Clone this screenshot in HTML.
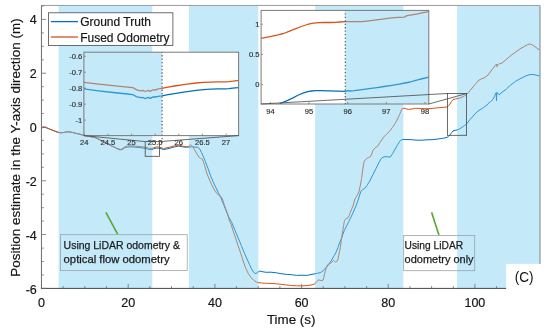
<!DOCTYPE html>
<html lang="en"><head><meta charset="utf-8"><title>Position estimate in the Y-axis direction</title>
<style>html,body{margin:0;padding:0;background:#fff}body{width:550px;height:333px;overflow:hidden}svg{display:block}text{font-family:"Liberation Sans",Arial,sans-serif;fill:#151515}.t12{font-size:12.5px}.lg{font-size:12px}.t13{font-size:13.4px}.t12,.lg,.t13{stroke:#151515;stroke-width:0.18px}.t8{font-size:7.6px;fill:#2e2e2e;stroke:#2e2e2e;stroke-width:0.15px}.an{font-size:10.6px;fill:#1c1c1c;stroke:#1c1c1c;stroke-width:0.25px}</style></head><body>
<svg width="550" height="333" viewBox="0 0 550 333">
<rect width="550" height="333" fill="#fff"/>
<g fill="none" stroke-linejoin="round" stroke-linecap="round" stroke-width="1.0">
<polyline stroke="#0072BD" points="41.5,128.2 42.5,127.6 43.5,127.3 45.5,127.4 47.0,128.0 52.0,130.0 56.0,131.6 59.1,132.6 61.8,132.8 64.5,132.3 67.3,131.8 70.0,132.0 72.7,132.5 76.0,133.4 80.0,134.2 83.6,135.5 89.0,136.4 94.5,137.3 99.0,139.3 103.6,141.8 108.0,144.0 112.7,146.4 116.5,148.2 118.3,148.8 120.0,149.4 122.0,149.6 124.5,147.9 127.5,147.0 131.0,146.9 134.5,147.1 138.2,147.5 142.0,147.9 145.5,148.4 148.5,149.3 151.0,149.8 153.5,148.9 156.4,148.0 158.5,148.2 161.0,148.7 163.6,149.6 166.0,149.1 169.0,148.4 172.0,147.6 174.5,146.9 178.2,146.1 181.0,146.5 183.6,147.0 186.5,147.2 189.0,147.0 192.0,146.9 195.0,147.1 197.8,147.4 199.5,148.6 201.6,152.7 203.5,157.0 205.4,161.6 208.0,168.5 210.5,175.6 213.0,181.5 215.6,187.0 218.0,192.0 220.7,197.3 223.2,203.5 225.8,210.0 228.5,216.5 231.8,222.7 235.0,230.3 238.2,238.0 241.3,245.5 244.5,253.3 247.0,259.0 249.6,264.7 251.5,268.8 253.4,272.0 254.7,273.3 256.0,273.6 257.8,272.2 259.8,271.0 263.0,271.8 266.2,272.3 271.0,272.2 276.3,272.8 281.0,273.7 286.5,274.4 291.5,274.7 296.7,275.4 302.0,275.2 306.9,275.4 311.0,274.5 314.8,273.8 317.5,273.3 320.0,272.7 321.5,271.9 323.0,270.8 324.5,269.4 326.0,267.8 327.5,266.0 329.0,264.0 331.0,261.0 332.8,258.0 334.3,255.4 335.8,252.8 337.0,250.0 338.0,247.5 339.2,244.0 340.3,241.0 341.3,238.8 342.8,234.6 344.3,230.5 346.5,226.0 348.8,221.5 350.6,217.8 352.5,214.0 355.5,207.0 358.2,200.0 359.8,194.5 360.9,191.2 362.8,189.4 364.7,188.5 367.0,185.5 369.8,180.9 373.0,174.5 376.2,168.2 378.7,163.0 381.2,158.6 383.0,157.2 385.0,156.7 387.5,156.8 390.2,157.2 392.7,153.5 395.2,149.0 397.7,144.5 400.3,140.6 402.0,139.6 404.1,139.4 408.0,139.6 411.8,139.7 417.0,140.2 422.0,140.2 427.0,139.8 432.1,139.7 437.0,139.1 442.3,138.4 445.0,137.9 447.0,137.4 448.5,136.4 450.0,135.0 451.5,132.8 453.0,131.0 455.0,130.3 457.0,130.0 459.5,128.9 462.0,127.4 464.3,125.7 466.6,124.0 470.0,119.6 474.0,115.0 478.0,111.0 483.6,107.5 487.3,104.8 488.2,103.5 490.5,101.6 492.7,99.8 494.5,96.2 496.2,92.6 496.5,100.7 496.8,92.4 497.6,93.0 499.1,94.8 502.0,92.2 505.8,89.6 506.4,88.9 510.9,84.8 515.5,81.4 520.0,78.8 526.0,75.8 529.0,74.8 532.0,74.4 536.0,75.0 539.4,76.0"/>
<polyline stroke="#D95319" points="41.5,128.2 42.5,127.6 43.5,127.3 45.5,127.4 47.0,128.0 52.0,130.0 56.0,131.6 59.1,132.6 61.8,132.8 64.5,132.3 67.3,131.8 70.0,132.0 72.7,132.5 76.0,133.4 80.0,134.2 83.6,135.5 89.0,136.4 94.5,137.3 99.0,139.3 103.6,141.8 108.0,144.0 112.7,146.4 116.5,148.4 120.0,150.0 122.0,149.0 124.5,147.0 127.5,146.0 131.0,145.8 134.5,146.0 138.2,146.4 142.0,146.8 145.5,147.3 148.5,148.2 151.0,148.7 153.5,147.8 156.4,146.9 158.5,147.1 161.0,147.6 163.6,148.5 166.0,148.0 169.0,147.3 172.0,146.5 174.5,145.8 178.2,145.1 181.0,145.6 183.6,146.4 186.5,146.8 188.5,146.7 189.4,145.4 190.2,144.7 191.2,145.1 192.6,146.5 194.2,149.2 195.9,152.0 197.5,154.8 199.2,157.5 200.5,158.3 201.9,158.8 202.7,160.0 203.5,161.8 204.6,165.5 205.7,169.5 207.4,175.0 208.1,176.5 209.8,180.5 211.4,184.2 213.3,188.0 215.2,191.3 216.8,193.3 218.5,195.1 221.2,196.7 222.0,198.2 222.8,200.2 223.7,203.0 224.5,205.5 227.0,212.5 229.6,221.4 230.5,222.7 233.0,230.5 235.6,238.0 238.0,245.5 240.7,253.3 243.2,261.0 245.8,268.5 248.3,273.5 250.9,277.4 254.0,280.5 257.3,282.5 261.5,283.0 266.2,283.3 271.0,283.4 276.3,283.8 281.0,284.3 286.5,285.0 291.5,285.5 296.7,285.8 302.0,285.9 306.9,285.6 311.0,285.0 314.8,284.0 316.0,282.6 317.0,281.3 318.5,279.9 320.8,280.5 323.0,280.2 323.8,277.5 324.5,274.2 325.3,270.8 326.4,267.5 327.5,264.8 329.0,263.9 330.5,263.3 332.0,261.9 333.5,260.4 334.7,261.4 335.8,262.2 337.3,261.0 338.1,258.5 338.8,255.0 339.6,251.2 340.3,247.5 341.3,240.5 342.1,235.0 342.8,230.5 343.6,225.5 344.3,221.5 345.0,219.8 345.8,218.8 347.0,218.2 348.0,217.8 349.2,215.5 350.3,212.5 351.8,208.8 353.3,205.0 354.5,200.0 357.2,195.5 358.9,192.0 360.2,186.0 361.6,178.3 362.9,168.5 364.1,161.8 365.4,159.6 366.7,158.5 368.7,157.5 370.5,156.7 371.7,154.2 373.0,150.4 375.2,147.7 377.6,146.2 380.0,142.5 383.6,137.1 386.5,134.2 389.5,131.3 392.5,127.3 395.3,123.3 397.5,119.0 399.6,114.5 400.8,111.5 401.8,108.9 404.0,108.2 408.4,109.4 412.0,109.0 415.6,108.3 420.0,108.4 425.0,108.7 430.0,108.6 435.0,108.1 440.0,107.6 444.0,107.3 447.0,107.0 448.5,105.8 450.0,104.0 451.5,101.5 453.0,99.6 455.5,98.9 458.0,98.5 460.0,98.0 462.0,97.2 464.5,95.8 467.0,94.2 470.0,90.6 473.0,87.0 476.0,83.4 479.0,80.0 481.5,78.8 484.0,78.0 486.0,76.6 488.0,75.0 491.0,71.0 494.0,67.0 495.5,65.2 496.6,64.0 497.1,66.8 497.6,64.6 498.4,64.3 500.0,63.7 502.0,63.0 505.0,60.6 509.0,57.0 514.0,53.2 520.0,49.0 525.0,46.0 529.0,44.0 531.5,44.5 534.0,46.0 537.0,48.2 539.4,50.0"/>
</g>
<rect x="58.6" y="5.95" width="93.7" height="282.4" fill="#73cbf1" fill-opacity="0.42"/>
<rect x="188.9" y="5.95" width="69.4" height="282.4" fill="#73cbf1" fill-opacity="0.42"/>
<rect x="315.1" y="5.95" width="88.2" height="282.4" fill="#73cbf1" fill-opacity="0.42"/>
<rect x="457.1" y="5.95" width="82.9" height="282.4" fill="#73cbf1" fill-opacity="0.42"/>
<g fill="none" stroke-width="1">
<path d="M41.45 5.45 H540.0" stroke="#9a9a9a"/>
<path d="M540.0 5.45 V288.4" stroke="#8c979e" stroke-width="1.2"/>
<path d="M41.45 5.45 V288.4" stroke="#6e6e6e"/>
<path d="M40.95 288.4 H540.0" stroke="#454545"/>
<path d="M41.5 288.4 v-4.5 M63.1 288.4 v-2.3 M84.8 288.4 v-2.3 M106.5 288.4 v-2.3 M128.2 288.4 v-4.5 M149.8 288.4 v-2.3 M171.5 288.4 v-2.3 M193.2 288.4 v-2.3 M214.9 288.4 v-4.5 M236.5 288.4 v-2.3 M258.2 288.4 v-2.3 M279.9 288.4 v-2.3 M301.6 288.4 v-4.5 M323.2 288.4 v-2.3 M344.9 288.4 v-2.3 M366.6 288.4 v-2.3 M388.2 288.4 v-4.5 M409.9 288.4 v-2.3 M431.6 288.4 v-2.3 M453.3 288.4 v-2.3 M474.9 288.4 v-4.5 M496.6 288.4 v-2.3 M518.3 288.4 v-2.3 M41.45 288.4 h4.6 M41.45 274.9 h2.3 M41.45 261.5 h2.3 M41.45 248.1 h2.3 M41.45 234.6 h4.6 M41.45 221.1 h2.3 M41.45 207.7 h2.3 M41.45 194.2 h2.3 M41.45 180.8 h4.6 M41.45 167.3 h2.3 M41.45 153.9 h2.3 M41.45 140.4 h2.3 M41.45 127.0 h4.6 M41.45 113.5 h2.3 M41.45 100.1 h2.3 M41.45 86.7 h2.3 M41.45 73.2 h4.6 M41.45 59.8 h2.3 M41.45 46.3 h2.3 M41.45 32.9 h2.3 M41.45 19.4 h4.6 M41.45 6.0 h2.3 " stroke="#6a6a6a" stroke-width="0.8"/>
</g>
<text class="t12" x="41.5" y="306.8" text-anchor="middle">0</text>
<text class="t12" x="128.2" y="306.8" text-anchor="middle">20</text>
<text class="t12" x="214.9" y="306.8" text-anchor="middle">40</text>
<text class="t12" x="301.6" y="306.8" text-anchor="middle">60</text>
<text class="t12" x="388.2" y="306.8" text-anchor="middle">80</text>
<text class="t12" x="474.9" y="306.8" text-anchor="middle">100</text>
<text class="t12" x="36.8" y="24.3" text-anchor="end">4</text>
<text class="t12" x="36.8" y="78.2" text-anchor="end">2</text>
<text class="t12" x="36.8" y="132.1" text-anchor="end">0</text>
<text class="t12" x="36.8" y="186.1" text-anchor="end">-2</text>
<text class="t12" x="36.8" y="240.0" text-anchor="end">-4</text>
<text class="t12" x="36.8" y="293.9" text-anchor="end">-6</text>
<text class="t13" x="291.2" y="324" text-anchor="middle">Time (s)</text>
<text class="t13" transform="translate(19.5 147.6) rotate(-90)" text-anchor="middle" textLength="258.5">Position estimate in the Y-axis direction (m)</text>
<rect x="83.9" y="52.2" width="154.7" height="83.4" fill="#fff"/>
<clipPath id="c1"><rect x="83.9" y="52.2" width="154.7" height="83.4"/></clipPath>
<g clip-path="url(#c1)" fill="none" stroke-width="1.3" stroke-linejoin="round">
<polyline stroke="#0072BD" points="83.9,88.9 98.5,90.8 113.1,92.5 127.6,94.0 132.7,94.7 134.5,95.5 136.4,96.6 138.5,97.2 140.7,97.6 142.9,97.5 145.1,98.7 146.5,98.0 148.0,97.3 150.2,98.4 151.6,97.6 153.1,96.9 155.2,97.0 158.2,96.3 161.8,95.8 168.0,94.7 174.5,93.6 182.0,92.4 189.1,91.4 196.0,90.4 203.6,89.6 211.0,89.2 218.2,88.9 225.5,88.9 229.0,88.6 232.7,88.2 235.5,87.9 238.6,87.6"/>
<polyline stroke="#D95319" points="83.9,82.4 98.5,84.1 113.1,85.7 127.6,87.2 132.7,87.7 134.5,88.5 136.4,89.6 138.5,90.3 140.7,90.8 142.9,90.4 145.1,91.5 146.5,91.0 148.0,90.4 150.2,91.4 151.6,90.5 153.1,89.7 155.2,90.1 156.8,89.3 158.2,88.9 160.0,88.7 161.8,88.4 168.0,87.2 174.5,86.0 182.0,84.8 189.1,83.8 196.0,83.0 203.6,82.4 211.0,82.1 218.2,81.9 225.5,81.9 229.0,81.6 232.7,81.2 235.5,80.8 238.6,80.4"/>
</g>
<rect x="83.9" y="52.2" width="78.2" height="83.4" fill="#73cbf1" fill-opacity="0.42"/>
<path d="M162.1 52.2 V143.5" stroke="#5a5a5a" stroke-width="1.2" stroke-dasharray="1.3 2.15" stroke-dashoffset="0.55" fill="none"/>
<rect x="83.9" y="52.2" width="154.7" height="83.4" fill="none" stroke="#7a7a7a" stroke-width="1"/>
<path d="M84.3 135.6 v-2 M107.9 135.6 v-2 M131.6 135.6 v-2 M155.2 135.6 v-2 M178.8 135.6 v-2 M202.4 135.6 v-2 M226.1 135.6 v-2 M83.9 56.3 h2 M83.9 72.25 h2 M83.9 88.2 h2 M83.9 104.15 h2 M83.9 120.1 h2 " stroke="#7a7a7a" stroke-width="0.8" fill="none"/>
<text class="t8" x="84.3" y="145.3" text-anchor="middle">24</text>
<text class="t8" x="107.9" y="145.3" text-anchor="middle">24.5</text>
<text class="t8" x="131.6" y="145.3" text-anchor="middle">25</text>
<text class="t8" x="155.2" y="145.3" text-anchor="middle">25.5</text>
<text class="t8" x="178.8" y="145.3" text-anchor="middle">26</text>
<text class="t8" x="202.4" y="145.3" text-anchor="middle">26.5</text>
<text class="t8" x="226.1" y="145.3" text-anchor="middle">27</text>
<text class="t8" x="82.3" y="59.4" text-anchor="end">-0.6</text>
<text class="t8" x="82.3" y="75.3" text-anchor="end">-0.7</text>
<text class="t8" x="82.3" y="91.3" text-anchor="end">-0.8</text>
<text class="t8" x="82.3" y="107.2" text-anchor="end">-0.9</text>
<text class="t8" x="82.3" y="123.2" text-anchor="end">-1</text>
<rect x="261.1" y="10.4" width="167.7" height="93.6" fill="#fff"/>
<clipPath id="c2"><rect x="261.1" y="10.4" width="167.7" height="93.6"/></clipPath>
<g clip-path="url(#c2)" fill="none" stroke-width="1.3" stroke-linejoin="round">
<polyline stroke="#0072BD" points="279.7,103.6 283.5,102.2 287.2,100.6 293.0,97.8 298.4,95.0 303.0,93.2 307.7,91.7 311.5,91.0 315.1,90.6 321.0,90.7 328.2,90.9 337.0,91.1 345.3,91.3 347.5,90.6 350.0,91.0 354.3,90.6 362.0,89.7 369.2,88.7 377.0,87.6 384.1,86.5 392.0,85.3 399.0,84.2 405.0,83.0 410.2,82.0 414.0,80.9 417.6,79.8 423.0,78.5 428.8,77.2"/>
<polyline stroke="#D95319" points="261.1,38.4 266.0,37.4 272.3,36.2 278.0,34.9 283.5,33.5 289.0,31.4 294.6,29.1 300.0,27.0 305.8,25.0 309.5,23.9 313.3,23.1 319.0,22.6 324.5,22.4 330.0,22.5 335.6,22.4 340.0,22.0 345.3,21.6 353.0,21.7 361.7,21.6 369.0,20.8 376.6,19.8 384.0,18.8 391.5,17.9 398.0,17.4 404.6,17.1 405.8,16.2 407.2,15.7 412.0,14.8 417.6,13.8 423.0,12.7 428.8,11.6"/>
</g>
<rect x="345.3" y="10.4" width="83.5" height="93.6" fill="#73cbf1" fill-opacity="0.42"/>
<path d="M345.3 10.4 V106" stroke="#5a5a5a" stroke-width="1.2" stroke-dasharray="1.3 2.15" stroke-dashoffset="0.55" fill="none"/>
<rect x="261.1" y="10.4" width="167.7" height="93.6" fill="none" stroke="#7a7a7a" stroke-width="1"/>
<path d="M270.4 104.0 v-2 M309.0 104.0 v-2 M347.7 104.0 v-2 M386.3 104.0 v-2 M425.0 104.0 v-2 M261.1 24.2 h2 M261.1 54.4 h2 M261.1 84.6 h2 " stroke="#7a7a7a" stroke-width="0.8" fill="none"/>
<text class="t8" x="270.4" y="113.7" text-anchor="middle">94</text>
<text class="t8" x="309.0" y="113.7" text-anchor="middle">95</text>
<text class="t8" x="347.7" y="113.7" text-anchor="middle">96</text>
<text class="t8" x="386.3" y="113.7" text-anchor="middle">97</text>
<text class="t8" x="425.0" y="113.7" text-anchor="middle">98</text>
<text class="t8" x="259.6" y="26.9" text-anchor="end">1</text>
<text class="t8" x="259.6" y="57.1" text-anchor="end">0.5</text>
<text class="t8" x="259.6" y="87.3" text-anchor="end">0</text>
<g stroke="#474747" stroke-width="0.8" fill="none">
<rect x="145.2" y="141.6" width="14.4" height="14.7"/>
<path d="M83.9 135.6 L145.2 141.6 M238.6 135.6 L159.6 141.6"/>
<rect x="447.5" y="93.5" width="19.1" height="41.8"/>
<path d="M261.1 104.0 L447.5 93.5 M428.8 104.0 L466.6 93.5"/>
</g>
<rect x="48.4" y="12.8" width="124.5" height="32.6" fill="#fff" stroke="#4a4a4a" stroke-width="0.8"/>
<path d="M50.9 21.6 H78" stroke="#0072BD" stroke-width="1.3"/>
<path d="M50.9 37 H78" stroke="#D95319" stroke-width="1.3"/>
<text class="lg" x="80.2" y="26.4">Ground Truth</text>
<text class="lg" x="80.2" y="41.9">Fused Odometry</text>
<rect x="60.4" y="234.7" width="126.8" height="35.7" fill="none" stroke="#9aa4aa" stroke-width="0.8"/>
<text class="an" x="63.6" y="248.5" textLength="116.4" lengthAdjust="spacingAndGlyphs">Using LiDAR odometry &amp;</text>
<text class="an" x="63.6" y="262.5" textLength="106" lengthAdjust="spacingAndGlyphs">optical flow odometry</text>
<path d="M105.9 212.3 L117.6 234.2" stroke="#58a829" stroke-width="1.6" fill="none"/>
<rect x="403.7" y="235.5" width="71" height="35.2" fill="none" stroke="#9aa4aa" stroke-width="0.8"/>
<text class="an" x="404.6" y="249.3" textLength="58.5" lengthAdjust="spacingAndGlyphs">Using LiDAR</text>
<text class="an" x="404.6" y="262.6" textLength="69" lengthAdjust="spacingAndGlyphs">odometry only</text>
<path d="M431.6 212.2 L438.9 234.9" stroke="#58a829" stroke-width="1.6" fill="none"/>
<rect x="506.1" y="263.9" width="44" height="26" fill="#fff"/>
<text transform="translate(514.7 281.8) scale(0.95 1)" style="font-size:14.3px;fill:#111">(C)</text>
</svg></body></html>
